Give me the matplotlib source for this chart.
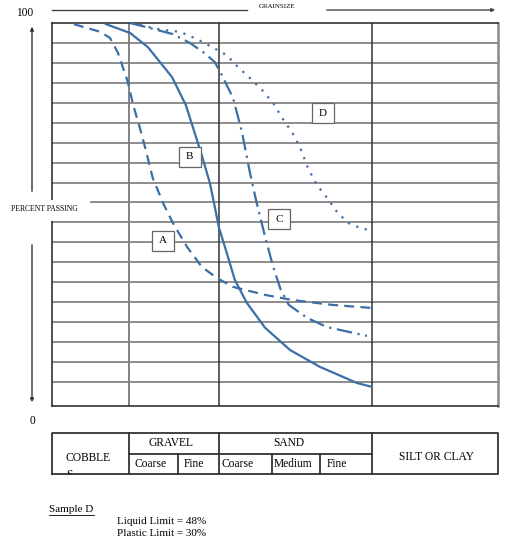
import matplotlib

matplotlib.use("Agg")
import matplotlib.pyplot as plt
from matplotlib.patches import Rectangle, FancyArrowPatch
from matplotlib.lines import Line2D

plt.rcParams["font.family"] = ["Liberation Serif", "DejaVu Serif"]

W, H = 530, 540
BLUE = "#3b6fa6"

# grain size position (0 = left edge, 100 = right edge) and percent passing
a_x = [4.9, 10.8, 13.0, 14.8, 16.1, 17.0, 18.2, 19.7, 20.9, 22.6, 24.9, 27.1,
       30.3, 33.6, 37.0, 40.6, 47.8, 53.8, 62.8, 71.7]
a_y = [99.7, 97.7, 96.1, 92.2, 87.7, 84.6, 78.6, 72.6, 67.4, 59.5, 53.0, 47.8,
       41.5, 36.3, 33.4, 31.1, 29.0, 27.7, 26.4, 25.6]
b_x = [12.1, 17.5, 21.5, 26.9, 30.0, 32.7, 33.9, 35.4, 36.5, 37.4, 39.2, 41.0,
       43.7, 47.8, 53.4, 60.1, 68.4, 71.7]
b_y = [99.7, 97.4, 93.7, 85.9, 78.6, 68.7, 64.2, 58.2, 52.0, 46.7, 39.9, 32.9,
       26.9, 20.4, 14.6, 10.2, 6.0, 5.0]
c_x = [17.5, 20.9, 27.1, 30.9, 33.9, 36.5, 38.3, 40.6, 42.6, 44.4, 45.9, 47.8,
       49.6, 51.3, 53.1, 57.2, 61.7, 70.6]
c_y = [100.0, 99.0, 97.1, 94.8, 92.4, 89.8, 85.9, 80.4, 71.5, 60.8, 53.0, 44.1,
       36.3, 30.3, 26.4, 23.0, 20.6, 18.3]
d_x = [19.7, 22.6, 24.9, 28.7, 32.5, 35.9, 39.2, 41.7, 44.4, 47.1, 49.6, 51.6,
       53.8, 55.6, 57.4, 59.4, 61.7, 63.9, 66.4, 69.7, 71.7]
d_y = [99.5, 98.7, 98.2, 97.7, 95.8, 93.7, 91.6, 88.5, 85.6, 82.5, 79.1, 75.2,
       71.5, 67.6, 62.1, 57.7, 54.3, 50.7, 47.8, 46.2, 46.0]

# sample labels (x, y of box centre)
labels = {"A": (24.8, 43.2), "B": (30.9, 65.1), "C": (50.9, 48.7), "D": (60.8, 76.4)}

grid_pct = [94.8, 89.6, 84.3, 79.1, 73.9, 68.7, 63.4, 58.2, 53.3, 48.0,
            42.8, 37.6, 32.4, 27.2, 21.9, 16.7, 11.5, 6.3]
gravel_x, sand_x, fines_x = 17.3, 37.4, 71.7

# soil classification table
col_full = [gravel_x, sand_x, fines_x]
col_sub = [28.3, 49.3, 60.1]
top_row = [("GRAVEL", 21.7), ("SAND", 49.6)]
sub_row = [("Coarse", 18.6), ("Fine", 29.6), ("Coarse", 37.9), ("Medium", 49.8), ("Fine", 61.7)]


def fpos(x, y):
    return x / W, 1 - y / H


def box(left, top, right, bottom):
    return [left / W, 1 - bottom / H, (right - left) / W, (bottom - top) / H]


fig = plt.figure(figsize=(W / 100, H / 100), dpi=100)

ax = fig.add_axes(box(52, 23, 498, 406))
ax.set_xlim(0, 100)
ax.set_ylim(0, 100)
ax.set_xticks([])
ax.set_yticks([])
for s in ["left", "top", "bottom"]:
    ax.spines[s].set_color("#222222")
    ax.spines[s].set_linewidth(1.1)
ax.spines["right"].set_color("#8a8a8a")
ax.spines["right"].set_linewidth(1.8)

for g in grid_pct:
    ax.axhline(g, color="#6e6e6e", lw=1.1, zorder=1)
ax.axvline(gravel_x, color="#7a7a7a", lw=1.3, zorder=1)
ax.axvline(sand_x, color="#333333", lw=1.1, zorder=1)
ax.axvline(fines_x, color="#333333", lw=1.1, zorder=1)

kw = dict(color=BLUE, lw=1.6, zorder=3, clip_on=False)
ax.plot(a_x, a_y, linestyle=(0, (4.5, 2.8)), **kw)
ax.plot(b_x, b_y, linestyle="-", **kw)
ax.plot(c_x, c_y, linestyle=(0, (7, 2.5, 1, 2.5)), **kw)
ax.plot(d_x, d_y, linestyle=(0, (1, 3)), **kw)

bw, bh = 22 / 4.46, 20 / 3.83
for name, (lx, ly) in labels.items():
    ax.add_patch(Rectangle((lx - bw / 2, ly - bh / 2), bw, bh, fc="white",
                           ec="#666666", lw=0.9, zorder=4))
    ax.text(lx, ly, name, ha="center", va="center", fontsize=8, zorder=5)

# outer annotations
fig.text(*fpos(25, 13), "100", ha="center", va="center", fontsize=8.3)
fig.text(*fpos(33, 421), "0", ha="center", va="center", fontsize=8.3)
fig.add_artist(Line2D([52 / W, 247 / W], [1 - 10 / H] * 2, color="#444444", lw=1.0))
fig.text(*fpos(277, 7), "GRAINSIZE", ha="center", va="center", fontsize=5)
fig.add_artist(FancyArrowPatch(fpos(324, 10), fpos(498, 10), transform=fig.transFigure,
                               arrowstyle="-|>", mutation_scale=5, lw=1.0, color="#444444"))
fig.add_artist(FancyArrowPatch(fpos(32, 194), fpos(32, 24), transform=fig.transFigure,
                               arrowstyle="-|>", mutation_scale=5, lw=1.0, color="#333333"))
fig.add_artist(FancyArrowPatch(fpos(32, 242), fpos(32, 405), transform=fig.transFigure,
                               arrowstyle="-|>", mutation_scale=5, lw=1.0, color="#333333"))
fig.add_artist(Rectangle(fpos(6, 220.5), 84 / W, 20.5 / H, transform=fig.transFigure,
                         fc="white", ec="none", zorder=2))
fig.text(*fpos(11, 209), "PERCENT PASSING", ha="left", va="center", fontsize=5.5, zorder=3)

# classification table
tab = fig.add_axes(box(52, 433, 498, 474))
tab.set_xlim(0, 100)
tab.set_ylim(0, 2)
tab.axis("off")
lc = dict(color="#333333", lw=1.3, clip_on=False)
tab.plot([0, 100, 100, 0, 0], [0, 0, 2, 2, 0], **lc)
for cx in col_full:
    tab.plot([cx, cx], [0, 2], **lc)
for cx in col_sub:
    tab.plot([cx, cx], [0, 1], **lc)
tab.plot([gravel_x, fines_x], [1, 1], **lc)
fs = 8.3
for t, tx in top_row:
    tab.text(tx, 1.5, t, ha="left", va="center", fontsize=fs)
for t, tx in sub_row:
    tab.text(tx, 0.5, t, ha="left", va="center", fontsize=fs)
tab.text(3.1, 0.8, "COBBLE", ha="left", va="center", fontsize=fs)
tab.text(3.1, -0.05, "S", ha="left", va="center", fontsize=fs, clip_on=True)
tab.text(77.8, 0.83, "SILT OR CLAY", ha="left", va="center", fontsize=fs)

# sample notes
fig.text(*fpos(49, 509), "Sample D", ha="left", va="center", fontsize=8)
fig.add_artist(Line2D([49 / W, 94 / W], [1 - 514.5 / H] * 2, color="black", lw=0.6))
fig.text(*fpos(117, 522), "Liquid Limit = 48%", ha="left", va="center", fontsize=8)
fig.text(*fpos(117, 534), "Plastic Limit = 30%", ha="left", va="center", fontsize=8)

fig.savefig("out.png", dpi=100)
plt.close(fig)
